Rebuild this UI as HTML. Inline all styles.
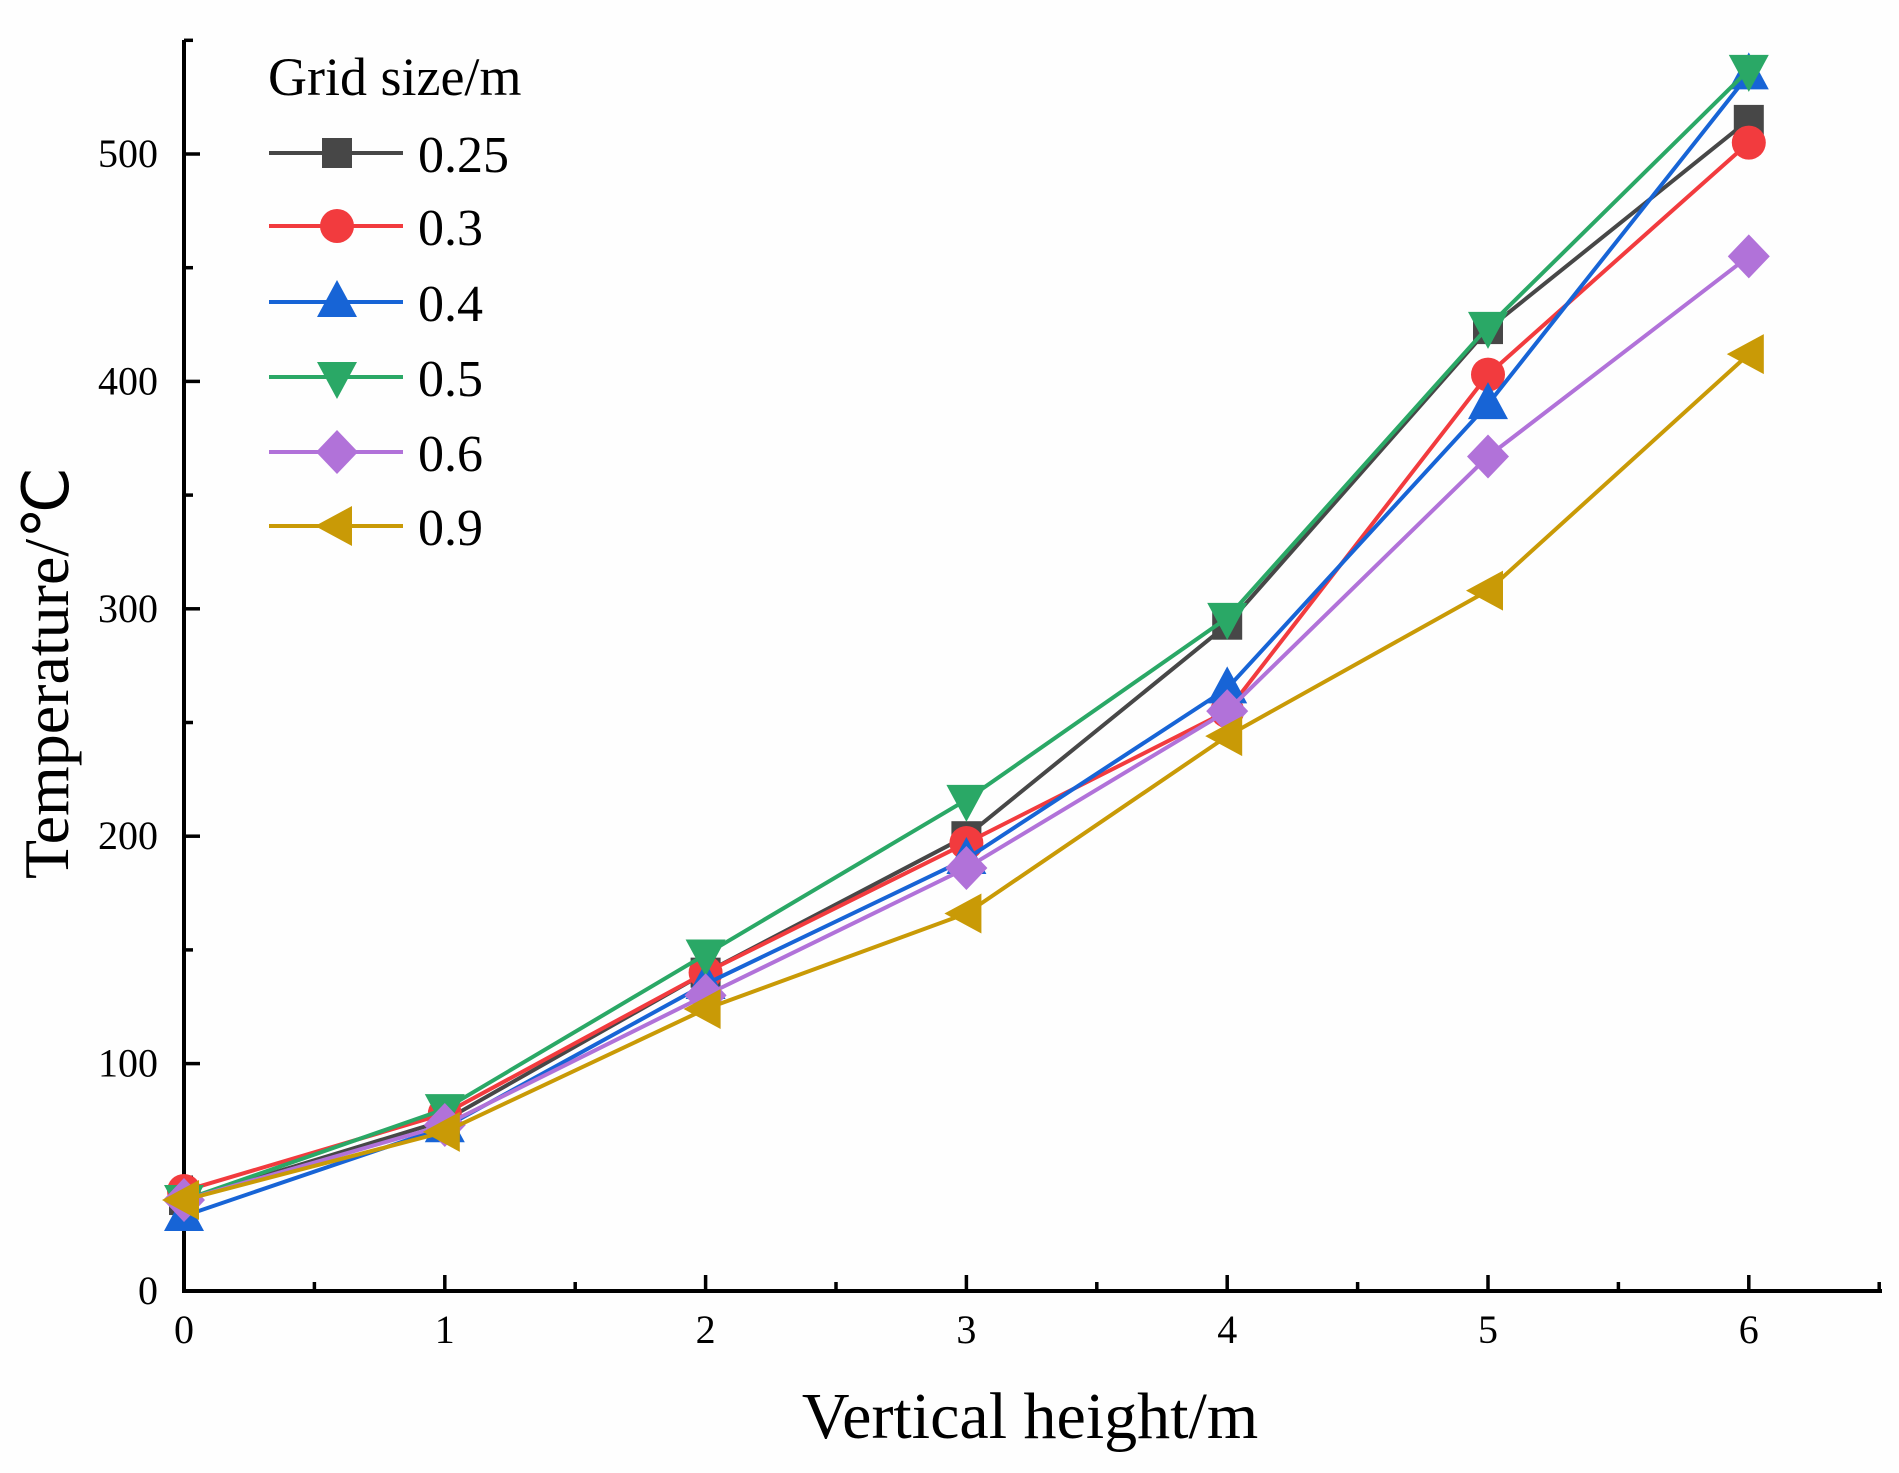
<!DOCTYPE html>
<html><head><meta charset="utf-8"><style>
html,body{margin:0;padding:0;background:#fefefe;}
svg{display:block;font-family:"Liberation Serif",serif;}
</style></head><body>
<svg id="s" width="1899" height="1473" viewBox="0 0 1899 1473" xmlns="http://www.w3.org/2000/svg"></svg>
<script>
const s=document.getElementById('s');
const X0=184,DX=260.8,Y0=1291,DY=2.274;
const px=x=>X0+x*DX, py=y=>Y0-y*DY;
let h='';
h+=`<line x1="${X0}" y1="40" x2="${X0}" y2="1293" stroke="#000" stroke-width="4"/>`;
h+=`<line x1="${X0-2}" y1="${Y0}" x2="1882" y2="${Y0}" stroke="#000" stroke-width="4"/>`;
for(let v=0;v<=550;v+=50){const y=py(v);const maj=v%100==0;
 h+=`<line x1="${X0}" y1="${y}" x2="${X0+(maj?16:9)}" y2="${y}" stroke="#000" stroke-width="3.5"/>`;
 if(maj)h+=`<text x="${X0-26}" y="${y+13}" font-size="40" text-anchor="end">${v}</text>`;}
for(let v=0;v<=6.5;v+=0.5){const x=px(v);const maj=v%1==0;
 h+=`<line x1="${x}" y1="${Y0}" x2="${x}" y2="${Y0-(maj?16:9)}" stroke="#000" stroke-width="3.5"/>`;
 if(maj)h+=`<text x="${x}" y="${Y0+52}" font-size="40" text-anchor="middle">${v}</text>`;}
h+=`<text x="1030" y="1438" font-size="66" text-anchor="middle">Vertical height/m</text>`;
h+=`<text transform="translate(68,673) rotate(-90)" font-size="64" text-anchor="middle">Temperature/℃</text>`;
const S=[
 ['0.25','#474747','sq',[40,75,140,200,293,423,515]],
 ['0.3','#f23b3e','ci',[44,78,140,197,255,403,505]],
 ['0.4','#1764d6','up',[33,72,135,190,265,390,535]],
 ['0.5','#2aa866','dn',[40,80,148,216,296,424,537]],
 ['0.6','#b172d9','di',[40,73,130,186,255,367,455]],
 ['0.9','#c99a06','lt',[40,70,124,166,244,308,412]]];
function mk(t,x,y,c){
 if(t=='sq')return `<rect x="${x-15}" y="${y-15}" width="30" height="30" fill="${c}"/>`;
 if(t=='ci')return `<circle cx="${x}" cy="${y}" r="17" fill="${c}"/>`;
 if(t=='up')return `<polygon points="${x},${y-22} ${x+20},${y+15} ${x-20},${y+15}" fill="${c}"/>`;
 if(t=='dn')return `<polygon points="${x},${y+22} ${x+20},${y-15} ${x-20},${y-15}" fill="${c}"/>`;
 if(t=='di')return `<polygon points="${x},${y-22} ${x+21},${y} ${x},${y+22} ${x-21},${y}" fill="${c}"/>`;
 return `<polygon points="${x-22},${y} ${x+15},${y-20} ${x+15},${y+20}" fill="${c}"/>`;}
S.forEach(([n,c,t,d])=>{
 h+=`<polyline fill="none" stroke="${c}" stroke-width="4" points="${d.map((v,i)=>px(i)+','+py(v)).join(' ')}"/>`;
 d.forEach((v,i)=>h+=mk(t,px(i),py(v),c));});
h+=`<text x="268" y="95" font-size="54">Grid size/m</text>`;
const LY=[153,226,302,377,452,526];
S.forEach(([n,c,t],i)=>{const y=LY[i];
 h+=`<line x1="269" y1="${y}" x2="403" y2="${y}" stroke="${c}" stroke-width="4"/>`;
 h+=mk(t,337,y,c);
 h+=`<text x="418" y="${y+19}" font-size="52">${n}</text>`;});
s.innerHTML=h;
</script>
</body></html>
